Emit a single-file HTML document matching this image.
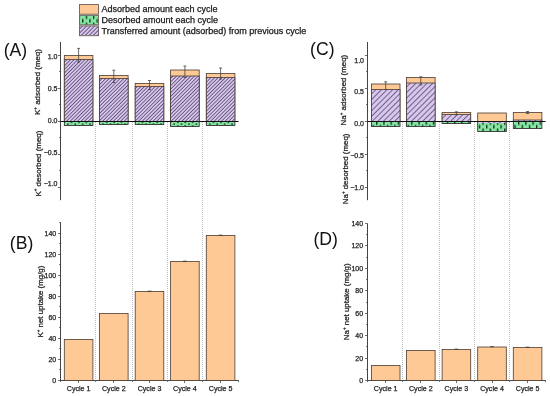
<!DOCTYPE html>
<html><head><meta charset="utf-8"><style>
html,body{margin:0;padding:0;background:#fff;width:550px;height:396px;overflow:hidden}
svg{display:block;font-family:"Liberation Sans",sans-serif;will-change:transform}
text{stroke:#222;stroke-width:0.25px}
</style></head><body>
<svg width="550" height="396" viewBox="0 0 550 396">
<defs><pattern id="hatchL" patternUnits="userSpaceOnUse" width="2.546" height="2.546" patternTransform="rotate(45)"><rect width="2.546" height="2.546" fill="#D8C6EE"/><rect x="0" y="0" width="0.72" height="2.546" fill="#4a3d5e"/></pattern><pattern id="hatchR" patternUnits="userSpaceOnUse" width="3.960" height="3.960" patternTransform="rotate(45)"><rect width="3.960" height="3.960" fill="#D8C6EE"/><rect x="0" y="0" width="0.72" height="3.960" fill="#4a3d5e"/></pattern><pattern id="hatchG" patternUnits="userSpaceOnUse" width="2.828" height="2.828" patternTransform="rotate(45)"><rect width="2.828" height="2.828" fill="#D8C6EE"/><rect x="0" y="0" width="0.8" height="2.828" fill="#4a3d5e"/></pattern><pattern id="dl" patternUnits="userSpaceOnUse" x="81.2" y="15.6" width="7.2" height="7.0"><rect width="7.2" height="7.0" fill="#84E6A2"/><rect x="1.0" y="3.4" width="1.2" height="3.6" fill="#0a180c"/><rect x="4.6" y="0.0" width="1.2" height="3.4" fill="#0a180c"/></pattern><pattern id="dk0" patternUnits="userSpaceOnUse" x="64.1" y="121.5" width="7.4" height="3.6"><rect width="7.4" height="3.6" fill="#84E6A2"/><rect x="-0.5" y="0" width="1.1" height="1.8" fill="#0a180c"/><rect x="6.9" y="0" width="1.1" height="1.8" fill="#0a180c"/><rect x="3.2" y="1.8" width="1.1" height="1.8" fill="#0a180c"/></pattern><pattern id="dk1" patternUnits="userSpaceOnUse" x="99.3" y="121.5" width="7.4" height="3.6"><rect width="7.4" height="3.6" fill="#84E6A2"/><rect x="-0.5" y="0" width="1.1" height="1.8" fill="#0a180c"/><rect x="6.9" y="0" width="1.1" height="1.8" fill="#0a180c"/><rect x="3.2" y="1.8" width="1.1" height="1.8" fill="#0a180c"/></pattern><pattern id="dk2" patternUnits="userSpaceOnUse" x="135.0" y="121.5" width="7.4" height="3.6"><rect width="7.4" height="3.6" fill="#84E6A2"/><rect x="-0.5" y="0" width="1.1" height="1.8" fill="#0a180c"/><rect x="6.9" y="0" width="1.1" height="1.8" fill="#0a180c"/><rect x="3.2" y="1.8" width="1.1" height="1.8" fill="#0a180c"/></pattern><pattern id="dk3" patternUnits="userSpaceOnUse" x="170.4" y="121.5" width="7.4" height="3.6"><rect width="7.4" height="3.6" fill="#84E6A2"/><rect x="-0.5" y="0" width="1.1" height="1.8" fill="#0a180c"/><rect x="6.9" y="0" width="1.1" height="1.8" fill="#0a180c"/><rect x="3.2" y="1.8" width="1.1" height="1.8" fill="#0a180c"/></pattern><pattern id="dk4" patternUnits="userSpaceOnUse" x="206.10000000000002" y="121.5" width="7.4" height="3.6"><rect width="7.4" height="3.6" fill="#84E6A2"/><rect x="-0.5" y="0" width="1.1" height="1.8" fill="#0a180c"/><rect x="6.9" y="0" width="1.1" height="1.8" fill="#0a180c"/><rect x="3.2" y="1.8" width="1.1" height="1.8" fill="#0a180c"/></pattern><pattern id="dn0" patternUnits="userSpaceOnUse" x="371.59999999999997" y="121.5" width="7.2" height="7.0"><rect width="7.2" height="7.0" fill="#84E6A2"/><rect x="1.0" y="3.4" width="1.2" height="3.6" fill="#0a180c"/><rect x="4.6" y="0.0" width="1.2" height="3.4" fill="#0a180c"/></pattern><pattern id="dn1" patternUnits="userSpaceOnUse" x="406.7" y="121.5" width="7.2" height="7.0"><rect width="7.2" height="7.0" fill="#84E6A2"/><rect x="1.0" y="3.4" width="1.2" height="3.6" fill="#0a180c"/><rect x="4.6" y="0.0" width="1.2" height="3.4" fill="#0a180c"/></pattern><pattern id="dn2" patternUnits="userSpaceOnUse" x="442.3" y="121.5" width="7.2" height="7.0"><rect width="7.2" height="7.0" fill="#84E6A2"/><rect x="1.0" y="3.4" width="1.2" height="3.6" fill="#0a180c"/><rect x="4.6" y="0.0" width="1.2" height="3.4" fill="#0a180c"/></pattern><pattern id="dn3" patternUnits="userSpaceOnUse" x="477.9" y="121.5" width="7.2" height="7.0"><rect width="7.2" height="7.0" fill="#84E6A2"/><rect x="1.0" y="3.4" width="1.2" height="3.6" fill="#0a180c"/><rect x="4.6" y="0.0" width="1.2" height="3.4" fill="#0a180c"/></pattern><pattern id="dn4" patternUnits="userSpaceOnUse" x="513.5" y="121.5" width="7.2" height="7.0"><rect width="7.2" height="7.0" fill="#84E6A2"/><rect x="1.0" y="3.4" width="1.2" height="3.6" fill="#0a180c"/><rect x="4.6" y="0.0" width="1.2" height="3.4" fill="#0a180c"/></pattern></defs>
<rect x="79.5" y="4.5" width="19" height="9.7" fill="#FEC995" stroke="#6a605c" stroke-width="0.9"/>
<rect x="79.5" y="15.3" width="19" height="9.5" fill="url(#dl)" stroke="#6a605c" stroke-width="0.9"/>
<rect x="79.5" y="25.9" width="19" height="9.8" fill="url(#hatchG)" stroke="#6a605c" stroke-width="0.9"/>
<text x="101.5" y="12.4" font-size="9" fill="#111">Adsorbed amount each cycle</text>
<text x="101.5" y="23.3" font-size="9" fill="#111">Desorbed amount each cycle</text>
<text x="101.5" y="34.4" font-size="9" fill="#111">Transferred amount (adsorbed) from previous cycle</text>
<text x="3.7" y="55.7" font-size="17.6" fill="#111" style="stroke:none">(A)</text>
<text x="9.8" y="248.8" font-size="17.6" fill="#111" style="stroke:none">(B)</text>
<text x="310.1" y="54.8" font-size="17.6" fill="#111" style="stroke:none">(C)</text>
<text x="313.5" y="244.9" font-size="17.6" fill="#111" style="stroke:none">(D)</text>
<line x1="60.5" y1="42" x2="60.5" y2="200.2" stroke="#444" stroke-width="1"/>
<line x1="57.9" y1="55.5" x2="60.5" y2="55.5" stroke="#444" stroke-width="0.8"/>
<text x="57.5" y="59.40" font-size="7.0" fill="#222" text-anchor="end">1.0</text>
<line x1="57.9" y1="88.5" x2="60.5" y2="88.5" stroke="#444" stroke-width="0.8"/>
<text x="57.5" y="91.10" font-size="7.0" fill="#222" text-anchor="end">0.5</text>
<line x1="57.9" y1="121.5" x2="60.5" y2="121.5" stroke="#444" stroke-width="0.8"/>
<text x="57.5" y="122.95" font-size="7.0" fill="#222" text-anchor="end">0.0</text>
<line x1="57.9" y1="154.5" x2="60.5" y2="154.5" stroke="#444" stroke-width="0.8"/>
<text x="57.5" y="154.80" font-size="7.0" fill="#222" text-anchor="end">−0.5</text>
<line x1="57.9" y1="187.5" x2="60.5" y2="187.5" stroke="#444" stroke-width="0.8"/>
<text x="57.5" y="186.20" font-size="7.0" fill="#222" text-anchor="end">−1.0</text>
<line x1="59.0" y1="71.5" x2="60.5" y2="71.5" stroke="#444" stroke-width="0.7"/>
<line x1="59.0" y1="104.5" x2="60.5" y2="104.5" stroke="#444" stroke-width="0.7"/>
<line x1="59.0" y1="137.5" x2="60.5" y2="137.5" stroke="#444" stroke-width="0.7"/>
<line x1="59.0" y1="170.5" x2="60.5" y2="170.5" stroke="#444" stroke-width="0.7"/>
<line x1="367.5" y1="42" x2="367.5" y2="200.2" stroke="#444" stroke-width="1"/>
<line x1="364.9" y1="55.5" x2="367.5" y2="55.5" stroke="#444" stroke-width="0.8"/>
<text x="364.0" y="62.70" font-size="7.0" fill="#222" text-anchor="end">1.0</text>
<line x1="364.9" y1="88.5" x2="367.5" y2="88.5" stroke="#444" stroke-width="0.8"/>
<text x="364.0" y="94.10" font-size="7.0" fill="#222" text-anchor="end">0.5</text>
<line x1="364.9" y1="121.5" x2="367.5" y2="121.5" stroke="#444" stroke-width="0.8"/>
<text x="364.0" y="125.90" font-size="7.0" fill="#222" text-anchor="end">0.0</text>
<line x1="364.9" y1="154.5" x2="367.5" y2="154.5" stroke="#444" stroke-width="0.8"/>
<text x="364.0" y="157.60" font-size="7.0" fill="#222" text-anchor="end">−0.5</text>
<line x1="364.9" y1="187.5" x2="367.5" y2="187.5" stroke="#444" stroke-width="0.8"/>
<text x="364.0" y="189.50" font-size="7.0" fill="#222" text-anchor="end">−1.0</text>
<line x1="366.0" y1="71.5" x2="367.5" y2="71.5" stroke="#444" stroke-width="0.7"/>
<line x1="366.0" y1="104.5" x2="367.5" y2="104.5" stroke="#444" stroke-width="0.7"/>
<line x1="366.0" y1="137.5" x2="367.5" y2="137.5" stroke="#444" stroke-width="0.7"/>
<line x1="366.0" y1="170.5" x2="367.5" y2="170.5" stroke="#444" stroke-width="0.7"/>
<line x1="60.5" y1="222.2" x2="60.5" y2="380.5" stroke="#444" stroke-width="1"/>
<line x1="58.1" y1="380.5" x2="60.5" y2="380.5" stroke="#444" stroke-width="0.8"/>
<text x="56.2" y="383.00" font-size="7.0" fill="#222" text-anchor="end">0</text>
<line x1="58.1" y1="359.5" x2="60.5" y2="359.5" stroke="#444" stroke-width="0.8"/>
<text x="56.2" y="361.97" font-size="7.0" fill="#222" text-anchor="end">20</text>
<line x1="58.1" y1="338.5" x2="60.5" y2="338.5" stroke="#444" stroke-width="0.8"/>
<text x="56.2" y="340.94" font-size="7.0" fill="#222" text-anchor="end">40</text>
<line x1="58.1" y1="317.5" x2="60.5" y2="317.5" stroke="#444" stroke-width="0.8"/>
<text x="56.2" y="319.92" font-size="7.0" fill="#222" text-anchor="end">60</text>
<line x1="58.1" y1="296.5" x2="60.5" y2="296.5" stroke="#444" stroke-width="0.8"/>
<text x="56.2" y="298.89" font-size="7.0" fill="#222" text-anchor="end">80</text>
<line x1="58.1" y1="275.5" x2="60.5" y2="275.5" stroke="#444" stroke-width="0.8"/>
<text x="56.2" y="277.86" font-size="7.0" fill="#222" text-anchor="end">100</text>
<line x1="58.1" y1="254.5" x2="60.5" y2="254.5" stroke="#444" stroke-width="0.8"/>
<text x="56.2" y="256.83" font-size="7.0" fill="#222" text-anchor="end">120</text>
<line x1="58.1" y1="233.5" x2="60.5" y2="233.5" stroke="#444" stroke-width="0.8"/>
<text x="56.2" y="235.80" font-size="7.0" fill="#222" text-anchor="end">140</text>
<line x1="59.0" y1="369.5" x2="60.5" y2="369.5" stroke="#444" stroke-width="0.7"/>
<line x1="59.0" y1="348.5" x2="60.5" y2="348.5" stroke="#444" stroke-width="0.7"/>
<line x1="59.0" y1="327.5" x2="60.5" y2="327.5" stroke="#444" stroke-width="0.7"/>
<line x1="59.0" y1="306.5" x2="60.5" y2="306.5" stroke="#444" stroke-width="0.7"/>
<line x1="59.0" y1="285.5" x2="60.5" y2="285.5" stroke="#444" stroke-width="0.7"/>
<line x1="59.0" y1="264.5" x2="60.5" y2="264.5" stroke="#444" stroke-width="0.7"/>
<line x1="59.0" y1="243.5" x2="60.5" y2="243.5" stroke="#444" stroke-width="0.7"/>
<line x1="59.0" y1="222.5" x2="60.5" y2="222.5" stroke="#444" stroke-width="0.7"/>
<line x1="367.5" y1="223.5" x2="367.5" y2="380.5" stroke="#444" stroke-width="1"/>
<line x1="365.1" y1="380.5" x2="367.5" y2="380.5" stroke="#444" stroke-width="0.8"/>
<text x="363.1" y="383.00" font-size="7.0" fill="#222" text-anchor="end">0</text>
<line x1="365.1" y1="358.5" x2="367.5" y2="358.5" stroke="#444" stroke-width="0.8"/>
<text x="363.1" y="360.57" font-size="7.0" fill="#222" text-anchor="end">20</text>
<line x1="365.1" y1="335.5" x2="367.5" y2="335.5" stroke="#444" stroke-width="0.8"/>
<text x="363.1" y="338.14" font-size="7.0" fill="#222" text-anchor="end">40</text>
<line x1="365.1" y1="313.5" x2="367.5" y2="313.5" stroke="#444" stroke-width="0.8"/>
<text x="363.1" y="315.72" font-size="7.0" fill="#222" text-anchor="end">60</text>
<line x1="365.1" y1="290.5" x2="367.5" y2="290.5" stroke="#444" stroke-width="0.8"/>
<text x="363.1" y="293.29" font-size="7.0" fill="#222" text-anchor="end">80</text>
<line x1="365.1" y1="268.5" x2="367.5" y2="268.5" stroke="#444" stroke-width="0.8"/>
<text x="363.1" y="270.86" font-size="7.0" fill="#222" text-anchor="end">100</text>
<line x1="365.1" y1="245.5" x2="367.5" y2="245.5" stroke="#444" stroke-width="0.8"/>
<text x="363.1" y="248.43" font-size="7.0" fill="#222" text-anchor="end">120</text>
<line x1="365.1" y1="223.5" x2="367.5" y2="223.5" stroke="#444" stroke-width="0.8"/>
<text x="363.1" y="226.00" font-size="7.0" fill="#222" text-anchor="end">140</text>
<line x1="366.0" y1="369.5" x2="367.5" y2="369.5" stroke="#444" stroke-width="0.7"/>
<line x1="366.0" y1="346.5" x2="367.5" y2="346.5" stroke="#444" stroke-width="0.7"/>
<line x1="366.0" y1="324.5" x2="367.5" y2="324.5" stroke="#444" stroke-width="0.7"/>
<line x1="366.0" y1="302.5" x2="367.5" y2="302.5" stroke="#444" stroke-width="0.7"/>
<line x1="366.0" y1="279.5" x2="367.5" y2="279.5" stroke="#444" stroke-width="0.7"/>
<line x1="366.0" y1="257.5" x2="367.5" y2="257.5" stroke="#444" stroke-width="0.7"/>
<line x1="366.0" y1="234.5" x2="367.5" y2="234.5" stroke="#444" stroke-width="0.7"/>
<line x1="60.5" y1="380.5" x2="238.6" y2="380.5" stroke="#444" stroke-width="1"/>
<line x1="367.5" y1="380.5" x2="545.6" y2="380.5" stroke="#444" stroke-width="1"/>
<line x1="95.5" y1="122" x2="95.5" y2="382" stroke="#888" stroke-width="0.7" stroke-dasharray="0.8 1.2"/>
<line x1="402.5" y1="122" x2="402.5" y2="382" stroke="#888" stroke-width="0.7" stroke-dasharray="0.8 1.2"/>
<line x1="132.5" y1="122" x2="132.5" y2="382" stroke="#888" stroke-width="0.7" stroke-dasharray="0.8 1.2"/>
<line x1="439.5" y1="122" x2="439.5" y2="382" stroke="#888" stroke-width="0.7" stroke-dasharray="0.8 1.2"/>
<line x1="167.5" y1="122" x2="167.5" y2="382" stroke="#888" stroke-width="0.7" stroke-dasharray="0.8 1.2"/>
<line x1="474.5" y1="122" x2="474.5" y2="382" stroke="#888" stroke-width="0.7" stroke-dasharray="0.8 1.2"/>
<line x1="202.5" y1="122" x2="202.5" y2="382" stroke="#888" stroke-width="0.7" stroke-dasharray="0.8 1.2"/>
<line x1="509.5" y1="122" x2="509.5" y2="382" stroke="#888" stroke-width="0.7" stroke-dasharray="0.8 1.2"/>
<rect x="64.3" y="121.5" width="28.6" height="4.00" fill="url(#dk0)" stroke="#202020" stroke-width="0.8"/>
<rect x="64.3" y="55.5" width="28.6" height="66.00" fill="#FEC995" stroke="#4a3c34" stroke-width="0.8"/>
<rect x="64.3" y="59.5" width="28.6" height="62.00" fill="url(#hatchL)" stroke="#4a3c34" stroke-width="0.8"/>
<line x1="78.6" y1="48.4" x2="78.6" y2="62.0" stroke="#444" stroke-width="0.8"/>
<line x1="77.1" y1="48.4" x2="80.1" y2="48.4" stroke="#444" stroke-width="0.8"/>
<line x1="77.1" y1="62.0" x2="80.1" y2="62.0" stroke="#444" stroke-width="0.8"/>
<rect x="99.5" y="121.5" width="28.6" height="3.00" fill="url(#dk1)" stroke="#202020" stroke-width="0.8"/>
<rect x="99.5" y="75.5" width="28.6" height="46.00" fill="#FEC995" stroke="#4a3c34" stroke-width="0.8"/>
<rect x="99.5" y="78.5" width="28.6" height="43.00" fill="url(#hatchL)" stroke="#4a3c34" stroke-width="0.8"/>
<line x1="113.8" y1="70.2" x2="113.8" y2="82.5" stroke="#444" stroke-width="0.8"/>
<line x1="112.3" y1="70.2" x2="115.3" y2="70.2" stroke="#444" stroke-width="0.8"/>
<line x1="112.3" y1="82.5" x2="115.3" y2="82.5" stroke="#444" stroke-width="0.8"/>
<rect x="135.2" y="121.5" width="28.6" height="3.00" fill="url(#dk2)" stroke="#202020" stroke-width="0.8"/>
<rect x="135.2" y="83.5" width="28.6" height="38.00" fill="#FEC995" stroke="#4a3c34" stroke-width="0.8"/>
<rect x="135.2" y="86.5" width="28.6" height="35.00" fill="url(#hatchL)" stroke="#4a3c34" stroke-width="0.8"/>
<line x1="149.5" y1="80.5" x2="149.5" y2="89.5" stroke="#444" stroke-width="0.8"/>
<line x1="148.0" y1="80.5" x2="151.0" y2="80.5" stroke="#444" stroke-width="0.8"/>
<line x1="148.0" y1="89.5" x2="151.0" y2="89.5" stroke="#444" stroke-width="0.8"/>
<rect x="170.6" y="121.5" width="28.6" height="5.00" fill="url(#dk3)" stroke="#202020" stroke-width="0.8"/>
<rect x="170.6" y="70.0" width="28.6" height="51.50" fill="#FEC995" stroke="#4a3c34" stroke-width="0.8"/>
<rect x="170.6" y="76.0" width="28.6" height="45.50" fill="url(#hatchL)" stroke="#4a3c34" stroke-width="0.8"/>
<line x1="184.9" y1="66.0" x2="184.9" y2="77.5" stroke="#444" stroke-width="0.8"/>
<line x1="183.4" y1="66.0" x2="186.4" y2="66.0" stroke="#444" stroke-width="0.8"/>
<line x1="183.4" y1="77.5" x2="186.4" y2="77.5" stroke="#444" stroke-width="0.8"/>
<rect x="206.3" y="121.5" width="28.6" height="4.00" fill="url(#dk4)" stroke="#202020" stroke-width="0.8"/>
<rect x="206.3" y="73.5" width="28.6" height="48.00" fill="#FEC995" stroke="#4a3c34" stroke-width="0.8"/>
<rect x="206.3" y="77.5" width="28.6" height="44.00" fill="url(#hatchL)" stroke="#4a3c34" stroke-width="0.8"/>
<line x1="220.60000000000002" y1="68.0" x2="220.60000000000002" y2="79.0" stroke="#444" stroke-width="0.8"/>
<line x1="219.10000000000002" y1="68.0" x2="222.10000000000002" y2="68.0" stroke="#444" stroke-width="0.8"/>
<line x1="219.10000000000002" y1="79.0" x2="222.10000000000002" y2="79.0" stroke="#444" stroke-width="0.8"/>
<rect x="371.4" y="121.5" width="28.6" height="5.00" fill="url(#dn0)" stroke="#202020" stroke-width="0.8"/>
<rect x="371.4" y="84.0" width="28.6" height="37.50" fill="#FEC995" stroke="#4a3c34" stroke-width="0.8"/>
<rect x="371.4" y="89.5" width="28.6" height="32.00" fill="url(#hatchR)" stroke="#4a3c34" stroke-width="0.8"/>
<line x1="385.7" y1="81.8" x2="385.7" y2="89.5" stroke="#444" stroke-width="0.8"/>
<line x1="384.2" y1="81.8" x2="387.2" y2="81.8" stroke="#444" stroke-width="0.8"/>
<line x1="384.2" y1="89.5" x2="387.2" y2="89.5" stroke="#444" stroke-width="0.8"/>
<rect x="406.5" y="121.5" width="28.6" height="5.00" fill="url(#dn1)" stroke="#202020" stroke-width="0.8"/>
<rect x="406.5" y="77.5" width="28.6" height="44.00" fill="#FEC995" stroke="#4a3c34" stroke-width="0.8"/>
<rect x="406.5" y="83.0" width="28.6" height="38.50" fill="url(#hatchR)" stroke="#4a3c34" stroke-width="0.8"/>
<line x1="420.8" y1="76.8" x2="420.8" y2="85.0" stroke="#444" stroke-width="0.8"/>
<line x1="419.3" y1="76.8" x2="422.3" y2="76.8" stroke="#444" stroke-width="0.8"/>
<line x1="419.3" y1="85.0" x2="422.3" y2="85.0" stroke="#444" stroke-width="0.8"/>
<rect x="442.1" y="121.5" width="28.6" height="2.00" fill="url(#dn2)" stroke="#202020" stroke-width="0.8"/>
<rect x="442.1" y="112.5" width="28.6" height="9.00" fill="#FEC995" stroke="#4a3c34" stroke-width="0.8"/>
<rect x="442.1" y="114.5" width="28.6" height="7.00" fill="url(#hatchR)" stroke="#4a3c34" stroke-width="0.8"/>
<line x1="456.40000000000003" y1="111.8" x2="456.40000000000003" y2="114.8" stroke="#444" stroke-width="0.8"/>
<line x1="454.90000000000003" y1="111.8" x2="457.90000000000003" y2="111.8" stroke="#444" stroke-width="0.8"/>
<line x1="454.90000000000003" y1="114.8" x2="457.90000000000003" y2="114.8" stroke="#444" stroke-width="0.8"/>
<rect x="477.7" y="121.5" width="28.6" height="10.00" fill="url(#dn3)" stroke="#202020" stroke-width="0.8"/>
<rect x="477.7" y="113.0" width="28.6" height="8.50" fill="#FEC995" stroke="#4a3c34" stroke-width="0.8"/>
<rect x="513.3" y="121.5" width="28.6" height="7.00" fill="url(#dn4)" stroke="#202020" stroke-width="0.8"/>
<rect x="513.3" y="112.5" width="28.6" height="9.00" fill="#FEC995" stroke="#4a3c34" stroke-width="0.8"/>
<rect x="513.3" y="120.0" width="28.6" height="1.50" fill="url(#hatchR)" stroke="#4a3c34" stroke-width="0.8"/>
<line x1="527.5999999999999" y1="111.5" x2="527.5999999999999" y2="113.5" stroke="#444" stroke-width="0.8"/>
<line x1="526.0999999999999" y1="111.5" x2="529.0999999999999" y2="111.5" stroke="#444" stroke-width="0.8"/>
<line x1="526.0999999999999" y1="113.5" x2="529.0999999999999" y2="113.5" stroke="#444" stroke-width="0.8"/>
<rect x="477.7" y="121.5" width="28.6" height="1.6" fill="url(#hatchR)"/>
<line x1="60.5" y1="121.5" x2="238.6" y2="121.5" stroke="#111" stroke-width="1"/>
<line x1="367.5" y1="121.5" x2="545.6" y2="121.5" stroke="#111" stroke-width="1"/>
<rect x="64.3" y="339.5" width="28.6" height="41.00" fill="#FEC995" stroke="#4a3c34" stroke-width="0.8"/>
<rect x="99.5" y="313.5" width="28.6" height="67.00" fill="#FEC995" stroke="#4a3c34" stroke-width="0.8"/>
<rect x="135.2" y="291.5" width="28.6" height="89.00" fill="#FEC995" stroke="#4a3c34" stroke-width="0.8"/>
<line x1="147.70" y1="291.2" x2="151.30" y2="291.2" stroke="#333" stroke-width="0.9"/>
<rect x="170.6" y="261.5" width="28.6" height="119.00" fill="#FEC995" stroke="#4a3c34" stroke-width="0.8"/>
<line x1="183.10" y1="261.2" x2="186.70" y2="261.2" stroke="#333" stroke-width="0.9"/>
<rect x="206.3" y="235.5" width="28.6" height="145.00" fill="#FEC995" stroke="#4a3c34" stroke-width="0.8"/>
<line x1="218.80" y1="235.2" x2="222.40" y2="235.2" stroke="#333" stroke-width="0.9"/>
<rect x="371.4" y="365.5" width="28.6" height="15.00" fill="#FEC995" stroke="#4a3c34" stroke-width="0.8"/>
<rect x="406.5" y="350.5" width="28.6" height="30.00" fill="#FEC995" stroke="#4a3c34" stroke-width="0.8"/>
<rect x="442.1" y="349.5" width="28.6" height="31.00" fill="#FEC995" stroke="#4a3c34" stroke-width="0.8"/>
<line x1="454.60" y1="349.2" x2="458.20" y2="349.2" stroke="#333" stroke-width="0.9"/>
<rect x="477.7" y="347.0" width="28.6" height="33.50" fill="#FEC995" stroke="#4a3c34" stroke-width="0.8"/>
<line x1="490.20" y1="346.7" x2="493.80" y2="346.7" stroke="#333" stroke-width="0.9"/>
<rect x="513.3" y="347.5" width="28.6" height="33.00" fill="#FEC995" stroke="#4a3c34" stroke-width="0.8"/>
<line x1="525.80" y1="347.2" x2="529.40" y2="347.2" stroke="#333" stroke-width="0.9"/>
<line x1="60.5" y1="380.5" x2="60.5" y2="382.0" stroke="#444" stroke-width="0.8"/>
<line x1="78.5" y1="380.5" x2="78.5" y2="383.0" stroke="#444" stroke-width="0.8"/>
<text x="78.60" y="390.7" font-size="7.1" fill="#222" text-anchor="middle">Cycle 1</text>
<line x1="113.5" y1="380.5" x2="113.5" y2="383.0" stroke="#444" stroke-width="0.8"/>
<text x="113.80" y="390.7" font-size="7.1" fill="#222" text-anchor="middle">Cycle 2</text>
<line x1="149.5" y1="380.5" x2="149.5" y2="383.0" stroke="#444" stroke-width="0.8"/>
<text x="149.50" y="390.7" font-size="7.1" fill="#222" text-anchor="middle">Cycle 3</text>
<line x1="184.5" y1="380.5" x2="184.5" y2="383.0" stroke="#444" stroke-width="0.8"/>
<text x="184.90" y="390.7" font-size="7.1" fill="#222" text-anchor="middle">Cycle 4</text>
<line x1="220.5" y1="380.5" x2="220.5" y2="383.0" stroke="#444" stroke-width="0.8"/>
<text x="220.60" y="390.7" font-size="7.1" fill="#222" text-anchor="middle">Cycle 5</text>
<line x1="95.5" y1="380.5" x2="95.5" y2="382.0" stroke="#444" stroke-width="0.7"/>
<line x1="132.5" y1="380.5" x2="132.5" y2="382.0" stroke="#444" stroke-width="0.7"/>
<line x1="167.5" y1="380.5" x2="167.5" y2="382.0" stroke="#444" stroke-width="0.7"/>
<line x1="202.5" y1="380.5" x2="202.5" y2="382.0" stroke="#444" stroke-width="0.7"/>
<line x1="238.5" y1="380.5" x2="238.5" y2="382.0" stroke="#444" stroke-width="0.8"/>
<line x1="367.5" y1="380.5" x2="367.5" y2="382.0" stroke="#444" stroke-width="0.8"/>
<line x1="385.5" y1="380.5" x2="385.5" y2="383.0" stroke="#444" stroke-width="0.8"/>
<text x="385.70" y="390.7" font-size="7.1" fill="#222" text-anchor="middle">Cycle 1</text>
<line x1="420.5" y1="380.5" x2="420.5" y2="383.0" stroke="#444" stroke-width="0.8"/>
<text x="420.80" y="390.7" font-size="7.1" fill="#222" text-anchor="middle">Cycle 2</text>
<line x1="456.5" y1="380.5" x2="456.5" y2="383.0" stroke="#444" stroke-width="0.8"/>
<text x="456.40" y="390.7" font-size="7.1" fill="#222" text-anchor="middle">Cycle 3</text>
<line x1="492.5" y1="380.5" x2="492.5" y2="383.0" stroke="#444" stroke-width="0.8"/>
<text x="492.00" y="390.7" font-size="7.1" fill="#222" text-anchor="middle">Cycle 4</text>
<line x1="527.5" y1="380.5" x2="527.5" y2="383.0" stroke="#444" stroke-width="0.8"/>
<text x="527.60" y="390.7" font-size="7.1" fill="#222" text-anchor="middle">Cycle 5</text>
<line x1="402.5" y1="380.5" x2="402.5" y2="382.0" stroke="#444" stroke-width="0.7"/>
<line x1="439.5" y1="380.5" x2="439.5" y2="382.0" stroke="#444" stroke-width="0.7"/>
<line x1="474.5" y1="380.5" x2="474.5" y2="382.0" stroke="#444" stroke-width="0.7"/>
<line x1="509.5" y1="380.5" x2="509.5" y2="382.0" stroke="#444" stroke-width="0.7"/>
<line x1="545.5" y1="380.5" x2="545.5" y2="382.0" stroke="#444" stroke-width="0.8"/>
<text transform="translate(40.1,82.0) rotate(-90)" font-size="7.9" fill="#222" text-anchor="middle">K<tspan font-size="4.5" dy="-3.4">+</tspan><tspan dy="3.4"> adsorbed (meq)</tspan></text>
<text transform="translate(40.5,163.6) rotate(-90)" font-size="7.9" fill="#222" text-anchor="middle">K<tspan font-size="4.5" dy="-3.4">+</tspan><tspan dy="3.4"> desorbed (meq)</tspan></text>
<text transform="translate(43.4,301.6) rotate(-90)" font-size="7.9" fill="#222" text-anchor="middle">K<tspan font-size="4.5" dy="-3.4">+</tspan><tspan dy="3.4"> net uptake (mg/g)</tspan></text>
<text transform="translate(346.3,90.1) rotate(-90)" font-size="7.9" fill="#222" text-anchor="middle">Na<tspan font-size="4.5" dy="-3.4">+</tspan><tspan dy="3.4"> adsorbed (meq)</tspan></text>
<text transform="translate(347.9,168.9) rotate(-90)" font-size="7.9" fill="#222" text-anchor="middle">Na<tspan font-size="4.5" dy="-3.4">+</tspan><tspan dy="3.4"> desorbed (meq)</tspan></text>
<text transform="translate(349.2,301.75) rotate(-90)" font-size="7.9" fill="#222" text-anchor="middle">Na<tspan font-size="4.5" dy="-3.4">+</tspan><tspan dy="3.4"> net uptake (mg/g)</tspan></text>
</svg>
</body></html>
